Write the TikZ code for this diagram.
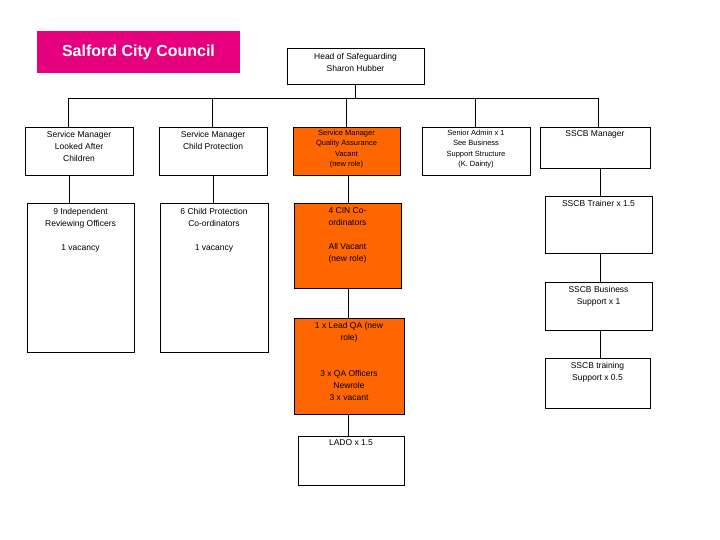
\documentclass[tikz,border=0pt]{standalone}
\usepackage{fontspec}
\setmainfont{Liberation Sans}
\definecolor{salford}{RGB}{230,0,126}
\definecolor{qaorange}{RGB}{255,102,0}
\tikzset{
  box/.style={draw, line width=0.8pt, inner sep=0pt},
  hot/.style={box, fill=qaorange},
  txt/.style={anchor=north, align=center, font=\fontsize{8.5}{12}\selectfont, inner sep=0pt},
  link/.style={line width=0.8pt}
}
\newcommand{\orgbox}[6]{% name, style, x1, y1, x2, y2
  \path[#2] (#3,#4) rectangle (#5,#6);
  \coordinate (#1-nw) at (#3,#4);
  \coordinate (#1-se) at (#5,#6);
  \node[inner sep=0pt, fit=(#1-nw)(#1-se)] (#1) {};}
\usetikzlibrary{fit}
\begin{document}
\begin{tikzpicture}[x=1pt, y=-1pt]
    \useasboundingbox (0,0) rectangle (720,540);

    % logo
    \fill[salford] (37,31) rectangle (240,73);
    \node[text=white, font=\bfseries\fontsize{16}{20}\selectfont] (logo) at (138.5,52) {Salford City Council};

    % boxes
    \orgbox{head}{box}{287}{48}{424}{84}
    \orgbox{lac}{box}{25}{127}{133}{175}
    \orgbox{cp}{box}{159}{127}{267}{175}
    \orgbox{qa}{hot}{293}{127}{400}{175}
    \orgbox{adm}{box}{422}{127}{530}{175}
    \orgbox{sscb}{box}{540}{127}{650}{168}

    \orgbox{iro}{box}{27}{203}{134}{352}
    \orgbox{cpc}{box}{160}{203}{268}{352}
    \orgbox{cin}{hot}{294}{203}{401}{288}
    \orgbox{lead}{hot}{294}{318}{404}{414}
    \orgbox{lado}{box}{298}{436}{404}{485}

    \orgbox{trainer}{box}{545}{196}{652}{253}
    \orgbox{bsup}{box}{545}{282}{652}{330}
    \orgbox{tsup}{box}{545}{358}{650}{408}

    % texts
    \node[txt] at ([yshift=-5pt]head.north) {Head of Safeguarding\\Sharon Hubber};
    \node[txt] at ([yshift=-4pt]lac.north) {Service Manager\\Looked After\\Children};
    \node[txt] at ([yshift=-4pt]cp.north) {Service Manager\\Child Protection};
    \node[txt, font=\fontsize{7.5}{10.5}\selectfont] at ([yshift=-3pt]qa.north) {Service Manager\\Quality Assurance\\Vacant\\(new role)};
    \node[txt, font=\fontsize{7.5}{10.5}\selectfont] at ([yshift=-3pt]adm.north) {Senior Admin x 1\\See Business\\Support Structure\\(K. Dainty)};
    \node[txt] at ([yshift=-4pt]sscb.north) {SSCB Manager};
    \node[txt] at ([yshift=-5pt]iro.north) {9 Independent\\Reviewing Officers\\[12pt]1 vacancy};
    \node[txt] at ([yshift=-5pt]cpc.north) {6 Child Protection\\Co-ordinators\\[12pt]1 vacancy};
    \node[txt] at ([yshift=-5pt]cin.north) {4 CIN Co-\\ordinators\\[12pt]All Vacant\\(new role)};
    \node[txt] at ([yshift=-4pt]lead.north) {1 x Lead QA (new\\role)\\[24pt]3 x QA Officers\\Newrole\\3 x vacant};
    \node[txt] at ([yshift=-4pt]lado.north) {LADO x 1.5};
    \node[txt] at ([yshift=-4pt]trainer.north) {SSCB Trainer x 1.5};
    \node[txt] at ([yshift=-4pt]bsup.north) {SSCB Business\\Support x 1};
    \node[txt] at ([yshift=-4pt]tsup.north) {SSCB training\\Support x 0.5};

    % connectors
    \coordinate (bus) at (346,98);
    \coordinate (busl) at (68,98);
    \coordinate (busr) at (598,98);
    \draw[link] (busl) -- (busr);
    \draw[link] (head.south) -- (head.south |- bus);
    \draw[link] (busl) -- (busl |- lac.north);
    \draw[link] (212,98) -- (212,127);
    \draw[link] (bus) -- (bus |- qa.north);
    \draw[link] (475,98) -- (475,127);
    \draw[link] (busr) -- (busr |- sscb.north);

    \draw[link] (lac.south -| 69,0) -- (iro.north -| 69,0);
    \draw[link] (cp.south -| 213,0) -- (cpc.north -| 213,0);
    \draw[link] (qa.south -| 348,0) -- (cin.north -| 348,0);
    \draw[link] (cin.south -| 348,0) -- (lead.north -| 348,0);
    \draw[link] (lead.south -| 348,0) -- (lado.north -| 348,0);
    \draw[link] (sscb.south -| 600,0) -- (trainer.north -| 600,0);
    \draw[link] (trainer.south -| 600,0) -- (bsup.north -| 600,0);
    \draw[link] (bsup.south -| 600,0) -- (tsup.north -| 600,0);
\end{tikzpicture}
\end{document}
